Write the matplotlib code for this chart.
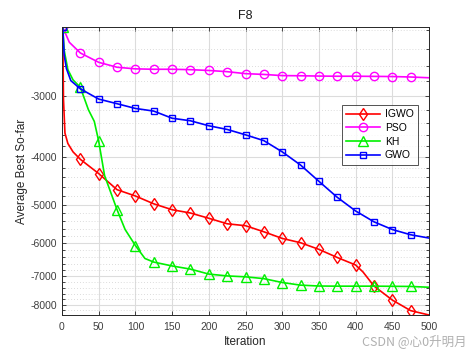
import numpy as np
import matplotlib
matplotlib.use("Agg")
import matplotlib.pyplot as plt
from matplotlib.ticker import FixedLocator, MultipleLocator, NullFormatter

plt.rcParams['font.family'] = ['Liberation Sans', 'DejaVu Sans']
plt.rcParams['axes.unicode_minus'] = False

# iterations / average best so-far
igwo_it = [1, 2, 4, 8, 15, 25, 50, 75, 100, 125, 150, 175, 200, 225, 250, 275,
           300, 325, 350, 375, 400, 410, 425, 450, 475, 500]
igwo = [-2170, -3040, -3570, -3750, -3900, -4040, -4320, -4660, -4800, -4980, -5120,
        -5200, -5330, -5470, -5520, -5680, -5860, -5980, -6170, -6410, -6640, -6860,
        -7330, -7830, -8230, -8400]

pso_it = [1, 10] + list(range(25, 501, 25))
pso = [-2170, -2330, -2450, -2560, -2620, -2640, -2645, -2645, -2650, -2660, -2675,
       -2700, -2710, -2725, -2727, -2731, -2733, -2733, -2735, -2737, -2743, -2753]

kh_it = [1, 3, 8, 15, 25, 36, 44, 50, 58, 75, 86, 100, 113, 125] + list(range(150, 501, 25))
kh = [-2170, -2420, -2650, -2780, -2880, -3200, -3380, -3710, -4360, -5120, -5620,
      -6060, -6440, -6550, -6670, -6770, -6930, -6990, -7020, -7080, -7210, -7300,
      -7330, -7335, -7335, -7335, -7340, -7345, -7373]

gwo_it = [1, 3, 6, 12] + list(range(25, 501, 25))
gwo = [-2170, -2475, -2635, -2790, -2900, -3043, -3110, -3180, -3220, -3330, -3370,
       -3450, -3510, -3600, -3700, -3900, -4150, -4480, -4830, -5150, -5420, -5620,
       -5760, -5850]

marks = [1] + list(range(25, 500, 25))
yticks = [-8000, -7000, -6000, -5000, -4000, -3000]
ylabels = ['-8000', '-7000', '-6000', '-5000', '-4000', '-3000']


def fwd(y):
    return -np.log10(np.clip(-np.asarray(y, dtype=float), 1e-9, None))


def inv(v):
    return -10 ** (-np.asarray(v, dtype=float))


fig = plt.figure(figsize=(4.74, 3.55), dpi=100)
ax = fig.add_axes([0.1308, 0.1127, 0.7743, 0.8113])
ax.set_yscale('function', functions=(fwd, inv))

series = [
    ('IGWO', igwo_it, igwo, '#ff0000', 'd', 6.5),
    ('PSO', pso_it, pso, '#ff00ff', 'o', 6),
    ('KH', kh_it, kh, '#00f000', '^', 6.5),
    ('GWO', gwo_it, gwo, '#0000ff', 's', 5),
]
for name, it, val, c, m, ms in series:
    idx = [i for i, x in enumerate(it) if x in marks]
    ax.plot(it, val, color=c, lw=1.2, marker=m, ms=ms, mfc='none', mec=c,
            mew=1.0, markevery=idx, label=name)

ax.set_xlim(0, 500)
ax.set_ylim(-8400, -2168)
ax.set_xticks(range(0, 501, 50))
ax.yaxis.set_major_locator(FixedLocator(yticks))
ax.set_yticklabels(ylabels)
ax.yaxis.set_minor_locator(MultipleLocator(200))
ax.yaxis.set_minor_formatter(NullFormatter())

ax.grid(True, which='major', color='#dcdcdc', lw=0.8, ls='-')
ax.grid(True, which='minor', axis='y', color='#d0d0d0', lw=0.6, ls=(0, (1, 2.5)))
ax.set_axisbelow(True)

for s in ax.spines.values():
    s.set_color('#262626')
    s.set_linewidth(0.7)
ax.tick_params(which='both', direction='in', top=True, right=True,
               color='#262626', labelcolor='#404040', labelsize=7.5, width=0.6)
ax.tick_params(which='major', length=3)
ax.tick_params(which='minor', length=2)
ax.tick_params(axis='x', pad=5)

ax.set_title('F8', fontsize=9, color='#1a1a1a', pad=6)
ax.set_xlabel('Iteration', fontsize=8.5, color='#262626', labelpad=3)
ax.set_ylabel('Average Best So-far', fontsize=8.5, color='#262626', labelpad=2)

leg = ax.legend(loc='upper right', bbox_to_anchor=(0.97, 0.728), fontsize=7.5,
                handlelength=3.2, frameon=True, fancybox=False, borderpad=0.4,
                labelspacing=0.35, handletextpad=0.5, borderaxespad=0)
leg.get_frame().set_edgecolor('#262626')
leg.get_frame().set_linewidth(0.7)

fig.text(0.985, 0.02, 'CSDN @心0升明月', ha='right', va='bottom', fontsize=9,
         color='#b0b0b0', family=['Noto Sans CJK SC', 'DejaVu Sans'])

fig.savefig('out.png', dpi=100)
